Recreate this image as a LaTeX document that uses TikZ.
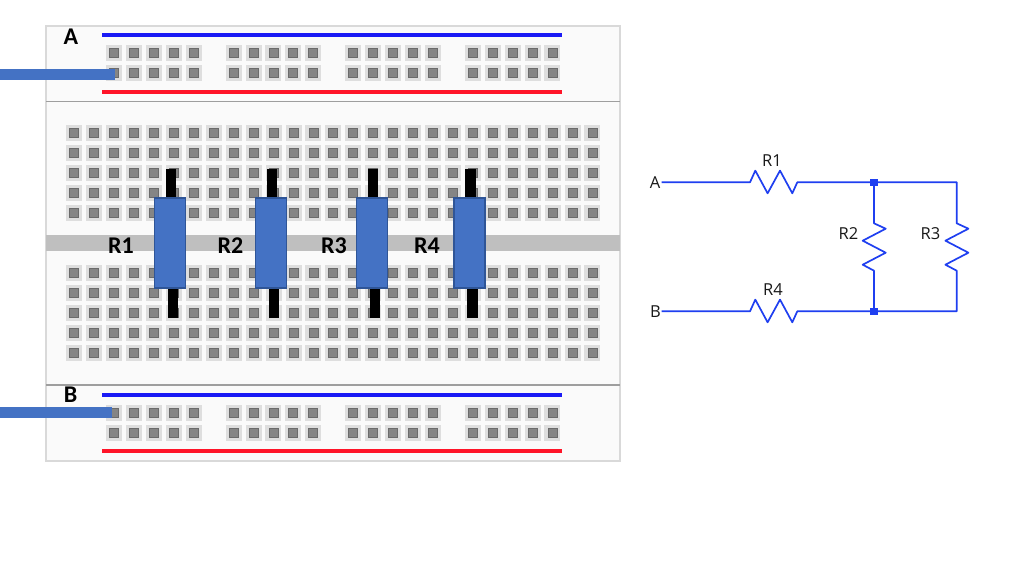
\documentclass[tikz,border=0pt]{standalone}
\usepackage{fontspec}
\setmainfont{Open Sans}
\newfontfamily\labfont{Carlito}
\definecolor{wireblue}{HTML}{4472C4}
\definecolor{bodyedge}{HTML}{2F5597}
\definecolor{schem}{HTML}{1F3FF0}
\definecolor{railblue}{HTML}{1A1AF5}
\definecolor{railred}{HTML}{FF1428}
\tikzset{
  holeouter/.style={fill=black!13},
  holeinner/.style={fill=black!48,draw=black!58,line width=0.8pt},
  railline/.style={line width=4pt},
  boardlab/.style={font=\labfont\bfseries\fontsize{24}{24}\selectfont,inner sep=0pt},
  schemlab/.style={font=\fontsize{16.5}{16.5}\selectfont,inner sep=0pt,text=black!90},
  schemwire/.style={draw=schem,line width=1.7pt,line join=round},
  junction/.style={fill=schem,draw=none,minimum size=7.5pt,inner sep=0pt,rectangle},
  resbody/.style={fill=wireblue,draw=bodyedge,line width=1.3pt,rectangle,inner sep=0pt,minimum width=31pt,minimum height=90pt},
  reslead/.style={draw=black,line width=10.5pt},
  jumper/.style={draw=wireblue,line width=10.5pt}
}
\newcommand{\holeat}[2]{%
  \fill[holeouter] (#1-8,#2-8) rectangle (#1+8,#2+8);
  \filldraw[holeinner] (#1-4.5,#2-4.5) rectangle (#1+4.5,#2+4.5);}
\begin{document}
\begin{tikzpicture}[x=1pt,y=-1pt]
\useasboundingbox (0,0) rectangle (1024,578);
\fill[white] (0,0) rectangle (1024,578);
% board
\filldraw[fill=black!2,draw=black!15,line width=1.2pt] (46,26) rectangle (620,461);
\fill[black!25] (46,235) rectangle (620,251);
\draw[black!38,line width=1.3pt] (46,101.5) -- (620,101.5);
\draw[black!38,line width=1.3pt] (46,385) -- (620,385);
% rail holes
\foreach \k in {0,1,2,3,4,6,7,8,9,10,12,13,14,15,16,18,19,20,21,22}{
  \pgfmathsetmacro{\hx}{114+19.93*\k}
  \foreach \hy in {53.3,73.3,412.7,432.7}{\holeat{\hx}{\hy}}
}
% main holes
\foreach \k in {0,...,26}{
  \pgfmathsetmacro{\hx}{74.3+19.93*\k}
  \foreach \hy in {133.3,153.3,173,193,213,272.7,292.7,312.7,332.7,352.7}{\holeat{\hx}{\hy}}
}
% rails
\coordinate (ta1) at (102,35.5); \coordinate (ta2) at (562,35.5);
\coordinate (tb1) at (102,91.5); \coordinate (tb2) at (562,91.5);
\coordinate (ba1) at (102,395); \coordinate (ba2) at (562,395);
\coordinate (bb1) at (102,451); \coordinate (bb2) at (562,451);
\draw[railline,railblue] (ta1) -- (ta2);
\draw[railline,railred] (tb1) -- (tb2);
\draw[railline,railblue] (ba1) -- (ba2);
\draw[railline,railred] (bb1) -- (bb2);
% jumpers
\coordinate (ja0) at (0,74.5); \coordinate (ja1) at (115,74.5);
\coordinate (jb0) at (0,412.7); \coordinate (jb1) at (112,412.7);
\draw[jumper] (ja0) -- (ja1);
\draw[jumper] (jb0) -- (jb1);
% resistors on board
\foreach \nm/\cx/\tx/\bx in {a/170/171/173,b/271/272/274,c/372/373/375,d/469.5/470.5/472.5}{
  \coordinate (lt\nm) at (\tx,169);
  \coordinate (lb\nm) at (\bx,318);
  \draw[reslead] (lt\nm) -- (\tx,198);
  \draw[reslead] (lb\nm) -- (\bx,288);
  \node[resbody] (body\nm) at (\cx,243) {};
}
\node[boardlab] (labR1) at (121,246) {R1};
\node[boardlab] (labR2) at (230.5,246) {R2};
\node[boardlab] (labR3) at (334,246) {R3};
\node[boardlab] (labR4) at (427,246) {R4};
\node[boardlab] (labA) at (71,36.5) {A};
\node[boardlab] (labB) at (70.5,395) {B};
% schematic
\node[schemlab] (sA) at (655,183) {A};
\node[schemlab] (sB) at (655.5,312) {B};
\node[schemlab] (sR1) at (772,161) {R1};
\node[schemlab] (sR4) at (773,290) {R4};
\node[schemlab] (sR2) at (848.5,234) {R2};
\node[schemlab] (sR3) at (930.5,234) {R3};
\coordinate (a0) at (661.5,182.3);
\coordinate (b0) at (661.5,311.3);
\coordinate (c3) at (956.7,182.3);
\coordinate (d3) at (956.7,311.3);
\node[junction] (j1) at (874,182.3) {};
\node[junction] (j2) at (874,311.3) {};
\draw[schemwire] (a0) -- (750,182.3) -- ++(5.3,-11.7) -- ++(12.3,22.7) -- ++(12.4,-22.7) -- ++(12.3,22.7) -- ++(5,-11) -- (j1.center);
\draw[schemwire] (b0) -- (750,311.3) -- ++(5.3,-11.7) -- ++(12.3,22.7) -- ++(12.4,-22.7) -- ++(12.3,22.7) -- ++(5,-11) -- (j2.center);
\draw[schemwire] (j1.center) -- (874,223.3) -- ++(11.7,5.4) -- ++(-23,12) -- ++(23,12) -- ++(-23,12) -- ++(11.3,6) -- (j2.center);
\draw[schemwire] (j1.center) -- (c3) -- (956.7,223.3) -- ++(11.7,5.4) -- ++(-23,12) -- ++(23,12) -- ++(-23,12) -- ++(11.3,6) -- (d3) -- (j2.center);
\end{tikzpicture}
\end{document}
